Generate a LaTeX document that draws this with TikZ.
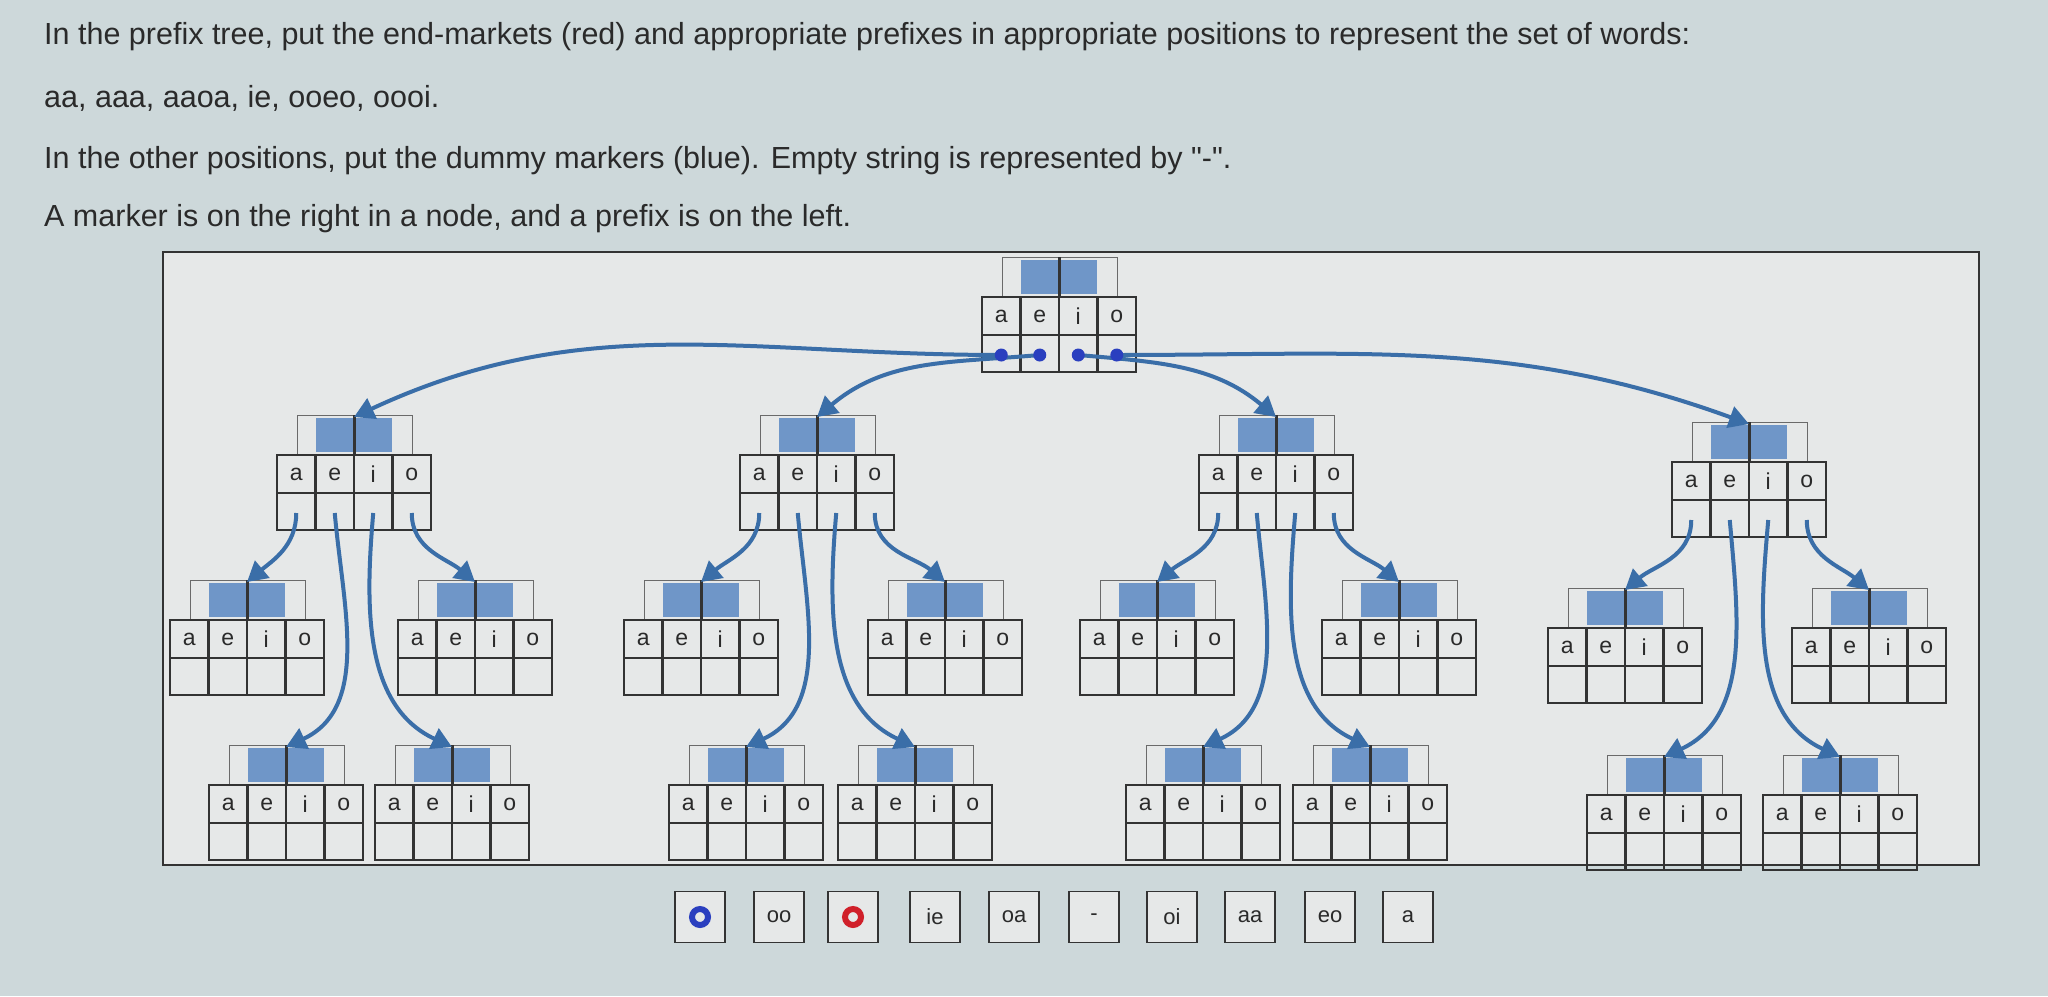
\documentclass[tikz,border=0pt]{standalone}
\usepackage{fontspec}
\setmainfont{Liberation Sans}
\usetikzlibrary{arrows.meta}
\definecolor{pagebg}{HTML}{CDD8DA}
\definecolor{panelbg}{HTML}{E6E8E8}
\definecolor{gridln}{HTML}{333333}
\definecolor{ovl}{HTML}{6A6A6A}
\definecolor{bluefill}{HTML}{6F96C8}
\definecolor{arrblue}{HTML}{3A6EA8}
\definecolor{dotblue}{HTML}{2A3FBF}
\definecolor{ringred}{HTML}{D0202A}
\definecolor{txt}{HTML}{2A2A2A}
\tikzset{
  gridline/.style={draw=gridln,line width=2.2pt},
  ovlline/.style={draw=ovl,line width=1pt},
  arr/.style={draw=arrblue,line width=4pt,-{Triangle[length=20pt,width=22pt]}},
  cellt/.style={font=\fontsize{23}{23}\selectfont,text=txt,inner sep=0pt},
  palbox/.style={draw=gridln,line width=1.8pt,fill=panelbg,minimum width=50pt,minimum height=51pt,inner sep=0pt,font=\fontsize{22}{22}\selectfont,text=txt},
  linetext/.style={anchor=west,inner sep=0pt,font=\fontsize{30.5}{30.5}\selectfont,text=txt}
}
\newcommand\trienode[3]{%
  \fill[bluefill] (#2+39,#3-37) rectangle (#2+115,#3-3);
  \draw[ovlline] (#2+20,#3) -- (#2+20,#3-40) -- (#2+135,#3-40) -- (#2+135,#3);
  \draw[gridln,line width=3pt] (#2+77,#3-40) -- (#2+77,#3);
  \draw[gridline] (#2,#3) rectangle (#2+154,#3+75);
  \draw[gridline] (#2,#3+38) -- (#2+154,#3+38);
  \foreach \k in {1,2,3} {\draw[gridline] (#2+38.5*\k,#3) -- (#2+38.5*\k,#3+75);}
  \node[cellt] (#1la) at (#2+19.25,#3+19) {a};
  \node[cellt] (#1le) at (#2+57.75,#3+19) {e};
  \node[cellt] (#1li) at (#2+96.25,#3+19) {i};
  \node[cellt] (#1lo) at (#2+134.75,#3+19) {o};
  \coordinate (#1a) at (#2+19.25,#3+58);
  \coordinate (#1e) at (#2+57.75,#3+58);
  \coordinate (#1i) at (#2+96.25,#3+58);
  \coordinate (#1o) at (#2+134.75,#3+58);
  \coordinate (#1top) at (#2+77,#3-38);
}
\begin{document}
\begin{tikzpicture}[x=1pt,y=-1pt]
\useasboundingbox (0,0) rectangle (2048,996);
\fill[pagebg] (0,0) rectangle (2048,996);
\node[linetext] (t1) at (44,37) {In the prefix tree, put the end-markets (red) and appropriate prefixes in appropriate positions to represent the set of words:};
\node[linetext] (t2) at (44,98) {aa, aaa, aaoa, ie, ooeo, oooi.};
\node[linetext] (t3) at (44,161) {In the other positions, put the dummy markers (blue). Empty string is represented by \textquotedbl-\textquotedbl.};
\node[linetext] (t4) at (44,219) {A marker is on the right in a node, and a prefix is on the left.};
\draw[fill=panelbg,draw=gridln,line width=1.5pt] (163,252) rectangle (1979,865);
\trienode{r}{982}{297}
\trienode{A}{277}{455}
\trienode{B}{740}{455}
\trienode{C}{1199}{455}
\trienode{D}{1672}{462}
\trienode{Aa}{170}{620}\trienode{Ao}{398}{620}
\trienode{Ba}{624}{620}\trienode{Bo}{868}{620}
\trienode{Ca}{1080}{620}\trienode{Co}{1322}{620}
\trienode{Da}{1548}{628}\trienode{Do}{1792}{628}
\trienode{Ae}{209}{785}\trienode{Ai}{375}{785}
\trienode{Be}{669}{785}\trienode{Bi}{838}{785}
\trienode{Ce}{1126}{785}\trienode{Ci}{1293}{785}
\trienode{De}{1587}{795}\trienode{Di}{1763}{795}
\draw[arr] (ra) to[out=180,in=25] (Atop);
\draw[arr] (re) to[out=185,in=40] (Btop);
\draw[arr] (ri) to[out=-5,in=140] (Ctop);
\draw[arr] (ro) to[out=0,in=160] (Dtop);
\foreach \p in {ra,re,ri,ro}{\fill[dotblue] (\p) circle (6.5pt);}
\foreach \n in {A,B,C,D}{
  \draw[arr] (\n a) to[out=-90,in=40] (\n atop);
  \draw[arr] (\n o) to[out=-90,in=140] (\n otop);
  \draw[arr] (\n e) to[out=-85,in=25] (\n etop);
  \draw[arr] (\n i) to[out=-95,in=155] (\n itop);
}
\node[palbox] (p1) at (700,917) {};
\draw[dotblue,line width=6pt] (p1) circle (8pt);
\node[palbox] (p2) at (779,917) {oo};
\node[palbox] (p3) at (853,917) {};
\draw[ringred,line width=6pt] (p3) circle (8pt);
\node[palbox] (p4) at (935,917) {ie};
\node[palbox] (p5) at (1014,917) {oa};
\node[palbox] (p6) at (1094,917) {-};
\node[palbox] (p7) at (1172,917) {oi};
\node[palbox] (p8) at (1250,917) {aa};
\node[palbox] (p9) at (1330,917) {eo};
\node[palbox] (p10) at (1408,917) {a};
\end{tikzpicture}
\end{document}
